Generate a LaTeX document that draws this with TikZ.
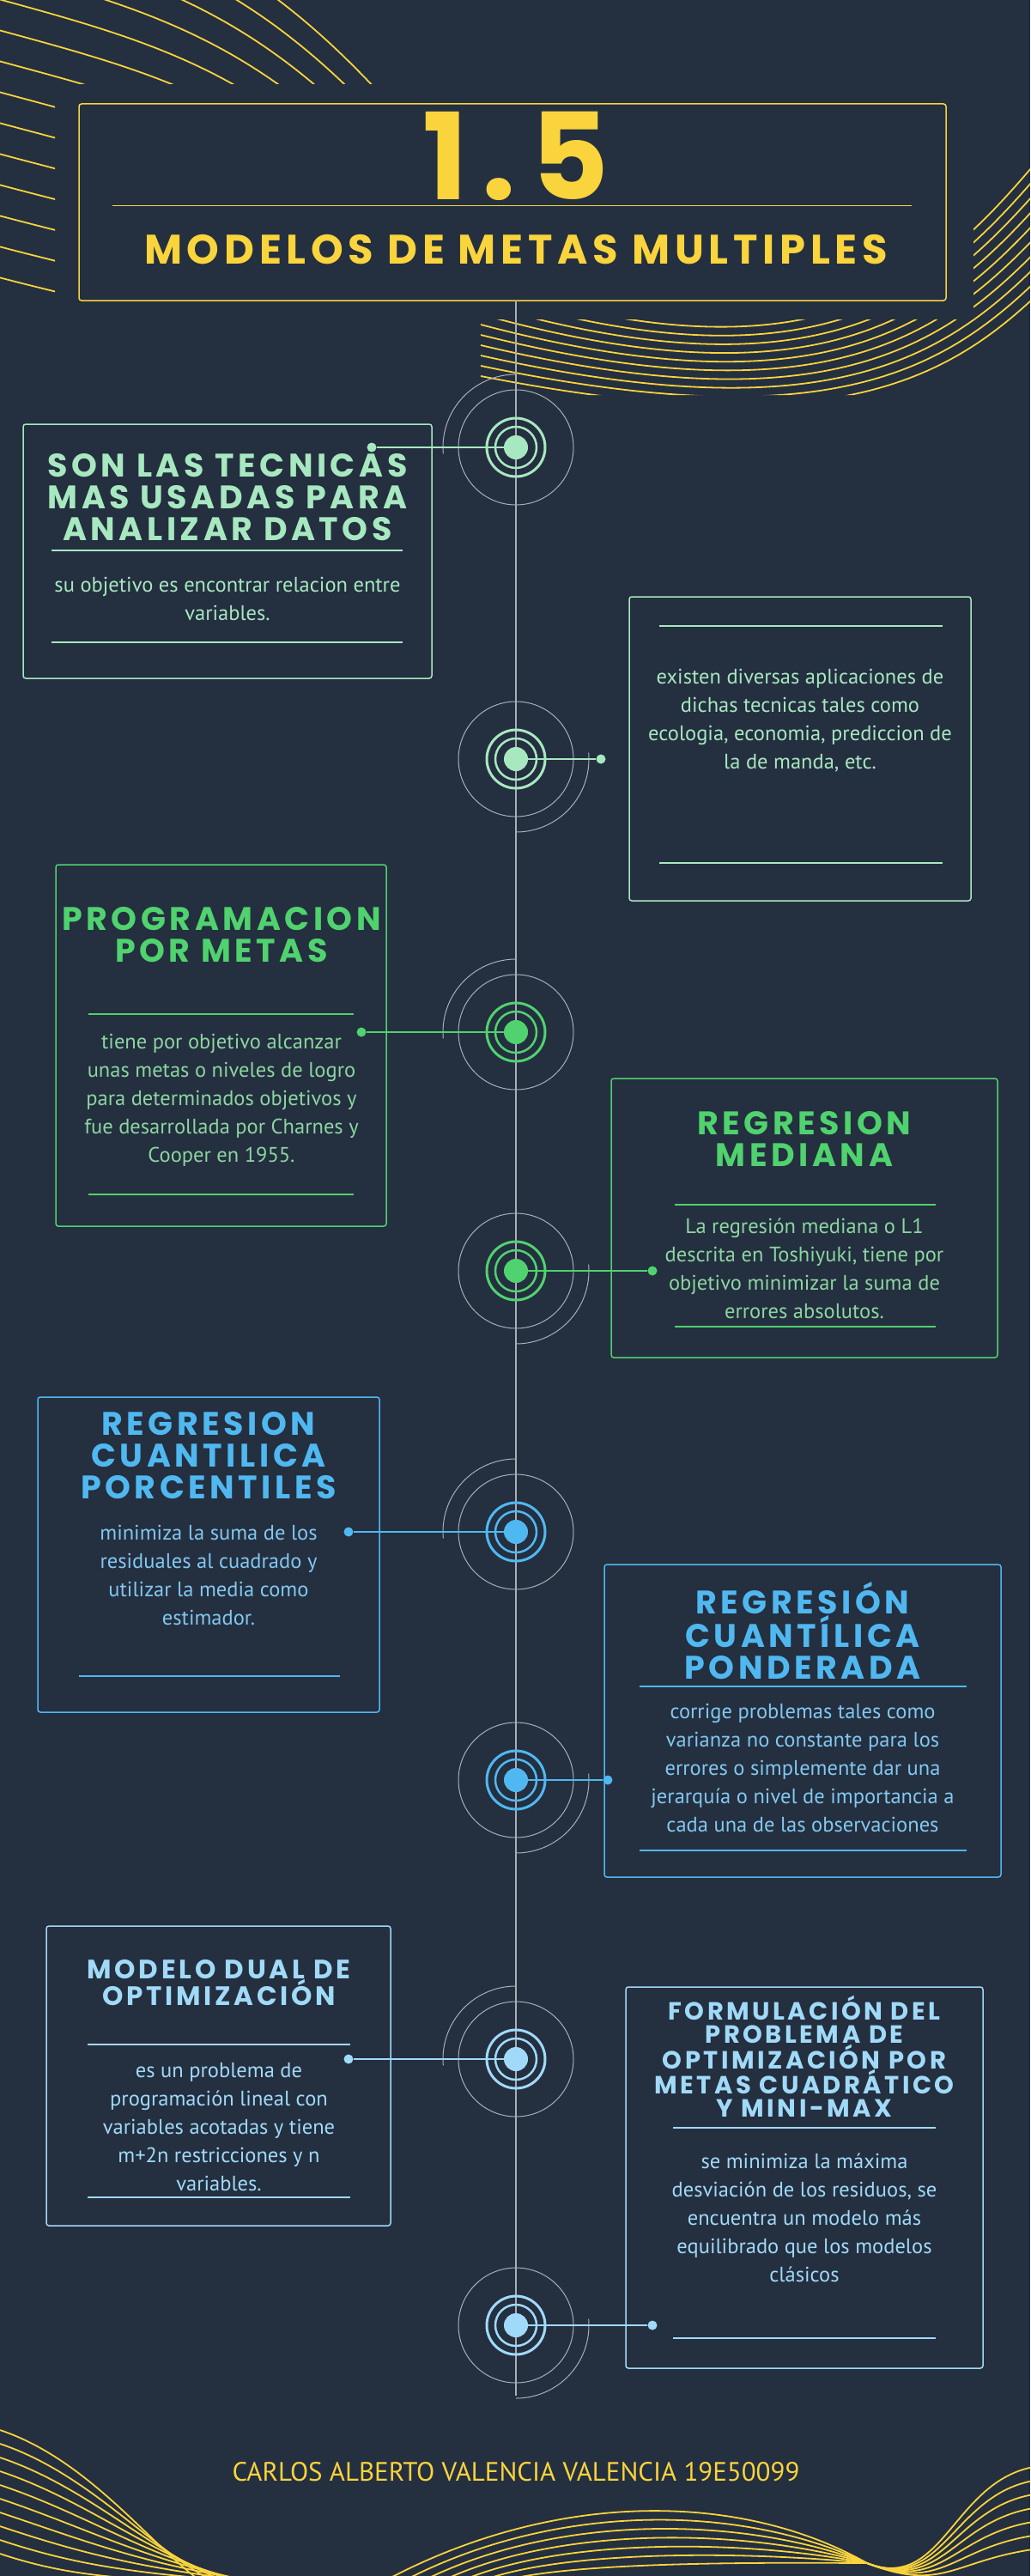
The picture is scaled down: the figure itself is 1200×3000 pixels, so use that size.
\documentclass[tikz,border=0pt]{standalone}
\usepackage{fontspec}
\setmainfont{PT Sans}
\newfontfamily\ttl[LetterSpace=12]{Poppins}
\definecolor{bg}{RGB}{36,47,64}
\definecolor{yel}{RGB}{250,212,60}
\definecolor{mint}{RGB}{168,232,192}
\definecolor{grn}{RGB}{80,210,110}
\definecolor{grnT}{RGB}{140,214,160}
\definecolor{blu}{RGB}{80,184,240}
\definecolor{bluT}{RGB}{130,200,240}
\definecolor{lblu}{RGB}{160,218,248}
\definecolor{gry}{RGB}{170,175,182}
\tikzset{
 box/.style={draw=#1, line width=1.5pt, rounded corners=3pt},
 ttlt/.style={text=#1, font=\ttl\bfseries\fontsize{38}{37}\selectfont, align=center},
 body/.style={text=#1, font=\fontsize{24.5}{33}\selectfont, align=center},
 rule/.style={draw=#1, line width=1.4pt},
 dotn/.style={circle, fill=#1, inner sep=0pt, minimum size=11pt},
 wave/.style={draw=yel, line width=1.8pt},
}
\newcommand{\hub}[3]{% name, y, color
 \coordinate (#1) at (601,#2);
 \draw[gry, line width=1pt] (#1) circle (67);
 \draw[#3, line width=3pt] (#1) circle (34);
 \draw[#3, line width=2.5pt] (#1) circle (24);
 \fill[#3] (#1) circle (14);
}
\begin{document}
\begin{tikzpicture}[x=1pt,y=-1pt]
\fill[bg] (0,0) rectangle (1200,3000);
\useasboundingbox (0,0) rectangle (1200,3000);
% waves top-left
\begin{scope}
\clip (0,0) rectangle (530,98) (0,0) rectangle (64,350);
\foreach \i in {0,...,13}{
 \draw[wave] (-20,-150+36*\i) .. controls (200,-90+36*\i) and (330,-40+32*\i) .. (520,200+30*\i);
}
\end{scope}
% waves top-right
\begin{scope}
\clip (1134,150) rectangle (1200,372) (540,372) rectangle (1200,460);
\foreach \i in {0,...,9}{
 \draw[wave] (1240,150+18*\i) .. controls (1120,290+16*\i) and (1000,470+6*\i) .. (560,330+12*\i);
}
\end{scope}
% waves bottom
\begin{scope}
\clip (0,2800) rectangle (1200,3000);
\foreach \i in {0,...,9}{
 \draw[wave] (0,2830+16*\i) .. controls (120,2870+16*\i) and (200,3000) .. (260+25*\i,3020);
}
\foreach \i in {0,...,6}{
 \draw[wave] (440+22*\i,3010) .. controls (640,2900+14*\i) and (860,2900+14*\i) .. (1010,2985) .. controls (1100,3020) and (1110,2885+16*\i) .. (1210,2872+16*\i);
}
\end{scope}
% title
\draw[box=yel] (92,121) rectangle (1102,350);
\node[text=yel, font=\ttl\bfseries\fontsize{140}{140}\selectfont] (num) at (601,182) {1.5};
\draw[draw=yel, line width=1pt] (131,239) -- (1062,239);
\node[text=yel, font=\ttl\bfseries\fontsize{48}{48}\selectfont] (sub) at (601,291) {MODELOS DE METAS MULTIPLES};
% spine
\draw[gry, line width=1.2pt] (601,350) -- (601,2790);
% partial arcs
\foreach \y in {521,1202,1784,2398}{ \draw[gry, line width=1pt] (601,\y-85) arc (270:175:85); }
\foreach \y in {884,1480,2073,2708}{ \draw[gry, line width=1pt] (601,\y+85) arc (90:-5:85); }
\hub{h1}{521}{mint}
\hub{h2}{884}{mint}
\hub{h3}{1202}{grn}
\hub{h4}{1480}{grn}
\hub{h5}{1784}{blu}
\hub{h6}{2073}{blu}
\hub{h7}{2398}{lblu}
\hub{h8}{2708}{lblu}
% box1
\draw[box=mint] (27,494) rectangle (503,790);
\node[ttlt=mint] (t1) at (265,579) {SON LAS TECNICAS\\MAS USADAS PARA\\ANALIZAR DATOS};
\draw[rule=mint] (60,641) -- (469,641);
\node[body=mint] (b1) at (265,697) {su objetivo es encontrar relacion entre\\variables.};
\draw[rule=mint] (60,748) -- (469,748);
\node[dotn=mint] (d1) at (433,521) {};
\draw[mint, line width=1.5pt] (d1) -- (h1);
% box2
\draw[box=mint] (733,695) rectangle (1131,1049);
\draw[rule=mint] (768,729) -- (1098,729);
\node[body=mint] (b2) at (932,839) {existen diversas aplicaciones de\\dichas tecnicas tales como\\ecologia, economia, prediccion de\\la de manda, etc.};
\draw[rule=mint] (768,1005) -- (1098,1005);
\node[dotn=mint] (d2) at (700,884) {};
\draw[mint, line width=1.5pt] (d2) -- (h2);
% box3
\draw[box=grn] (65,1007) rectangle (450,1428);
\node[ttlt=grn] (t3) at (258,1089) {PROGRAMACION\\POR METAS};
\draw[rule=grn] (103,1181) -- (412,1181);
\node[body=grnT] (b3) at (258,1281) {tiene por objetivo alcanzar\\unas metas o niveles de logro\\para determinados objetivos y\\fue desarrollada por Charnes y\\Cooper en 1955.};
\draw[rule=grn] (103,1391) -- (412,1391);
\node[dotn=grn] (d3) at (421,1202) {};
\draw[grn, line width=1.5pt] (d3) -- (h3);
% box4
\draw[box=grn] (712,1256) rectangle (1162,1581);
\node[ttlt=grn] (t4) at (937,1326) {REGRESION\\MEDIANA};
\draw[rule=grn] (786,1403) -- (1090,1403);
\node[body=grnT] (b4) at (937,1477) {La regresión mediana o L1\\descrita en Toshiyuki, tiene por\\objetivo minimizar la suma de\\errores absolutos.};
\draw[rule=grn] (786,1545) -- (1090,1545);
\node[dotn=grn] (d4) at (760,1480) {};
\draw[grn, line width=1.5pt] (d4) -- (h4);
% box5
\draw[box=blu] (44,1627) rectangle (442,1994);
\node[ttlt=blu] (t5) at (243,1695) {REGRESION\\CUANTILICA\\PORCENTILES};
\node[body=bluT] (b5) at (243,1834) {minimiza la suma de los\\residuales al cuadrado y\\utilizar la media como\\estimador.};
\draw[rule=blu] (92,1952) -- (396,1952);
\node[dotn=blu] (d5) at (406,1784) {};
\draw[blu, line width=1.5pt] (d5) -- (h5);
% box6
\draw[box=blu] (704,1822) rectangle (1166,2186);
\node[ttlt=blu] (t6) at (935,1899) {REGRESIÓN\\CUANTÍLICA\\PONDERADA};
\draw[rule=blu] (745,1964) -- (1126,1964);
\node[body=bluT] (b6) at (935,2059) {corrige problemas tales como\\varianza no constante para los\\errores o simplemente dar una\\jerarquía o nivel de importancia a\\cada una de las observaciones};
\draw[rule=blu] (745,2155) -- (1126,2155);
\node[dotn=blu] (d6) at (708,2073) {};
\draw[blu, line width=1.5pt] (d6) -- (h6);
% box7
\draw[box=lblu] (54,2243) rectangle (455,2592);
\node[ttlt=lblu, font=\ttl\bfseries\fontsize{31}{31}\selectfont] (t7) at (255,2309) {MODELO DUAL DE\\OPTIMIZACIÓN};
\draw[rule=lblu] (102,2381) -- (408,2381);
\node[body=lblu] (b7) at (255,2477) {es un problema de\\programación lineal con\\variables acotadas y tiene\\m+2n restricciones y n\\variables.};
\draw[rule=lblu] (102,2559) -- (408,2559);
\node[dotn=lblu] (d7) at (406,2398) {};
\draw[lblu, line width=1.5pt] (d7) -- (h7);
% box8
\draw[box=lblu] (729,2314) rectangle (1145,2758);
\node[ttlt=lblu, font=\ttl\bfseries\fontsize{29}{27}\selectfont] (t8) at (937,2395) {FORMULACIÓN DEL\\PROBLEMA DE\\OPTIMIZACIÓN POR\\METAS CUADRÁTICO\\Y MINI-MAX};
\draw[rule=lblu] (784,2478) -- (1090,2478);
\node[body=lblu] (b8) at (937,2583) {se minimiza la máxima\\desviación de los residuos, se\\encuentra un modelo más\\equilibrado que los modelos\\clásicos};
\draw[rule=lblu] (784,2723) -- (1090,2723);
\node[dotn=lblu] (d8) at (760,2708) {};
\draw[lblu, line width=1.5pt] (d8) -- (h8);
% footer
\node[text=yel, font=\fontsize{31}{34}\selectfont] (ft) at (601,2879) {CARLOS ALBERTO VALENCIA VALENCIA 19E50099};
\end{tikzpicture}
\end{document}
